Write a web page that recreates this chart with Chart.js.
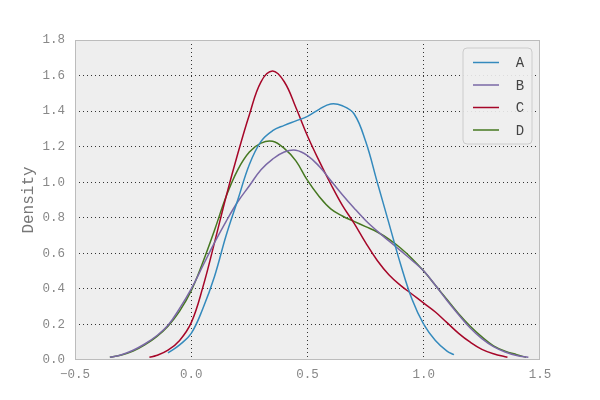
<!DOCTYPE html>
<html>
<head>
<meta charset="utf-8">
<script src="https://cdn.jsdelivr.net/npm/chart.js@4.4.1/dist/chart.umd.min.js"></script>
<style>
  html, body { margin: 0; padding: 0; background: #fff; }
</style>
</head>
<body>
<canvas id="kde" width="600" height="400"></canvas>
<script>
// density estimates, one x/y pair of arrays per series
var seriesNames = ['A', 'B', 'C', 'D'];

var xA = [-0.10, -0.05, 0.00, 0.05, 0.10, 0.15, 0.20, 0.25, 0.30, 0.35, 0.40, 0.45, 0.50, 0.55, 0.60, 0.65, 0.70, 0.75, 0.80, 0.85, 0.90, 0.95, 1.00, 1.05, 1.10, 1.13];
var yA = [0.04, 0.085, 0.15, 0.29, 0.47, 0.70, 0.90, 1.10, 1.23, 1.29, 1.32, 1.345, 1.37, 1.41, 1.44, 1.43, 1.385, 1.23, 1.00, 0.77, 0.54, 0.34, 0.20, 0.11, 0.05, 0.03];

var xB = [-0.35, -0.30, -0.25, -0.20, -0.15, -0.10, -0.05, 0.00, 0.05, 0.10, 0.15, 0.20, 0.25, 0.30, 0.35, 0.40, 0.45, 0.50, 0.55, 0.60, 0.65, 0.70, 0.75, 0.80, 0.85, 0.90, 0.95, 1.00, 1.05, 1.10, 1.15, 1.20, 1.25, 1.30, 1.35, 1.40, 1.45];
var yB = [0.015, 0.03, 0.055, 0.09, 0.135, 0.195, 0.29, 0.40, 0.53, 0.66, 0.78, 0.89, 0.98, 1.07, 1.13, 1.17, 1.18, 1.15, 1.09, 1.01, 0.93, 0.855, 0.785, 0.725, 0.67, 0.615, 0.56, 0.50, 0.42, 0.335, 0.255, 0.18, 0.12, 0.075, 0.045, 0.025, 0.015];

var xC = [-0.18, -0.15, -0.10, -0.05, 0.00, 0.05, 0.10, 0.15, 0.20, 0.25, 0.30, 0.35, 0.40, 0.45, 0.50, 0.55, 0.60, 0.65, 0.70, 0.75, 0.80, 0.85, 0.90, 0.95, 1.00, 1.05, 1.10, 1.15, 1.20, 1.25, 1.30, 1.36];
var yC = [0.015, 0.025, 0.055, 0.11, 0.21, 0.41, 0.66, 0.92, 1.16, 1.38, 1.565, 1.625, 1.565, 1.42, 1.26, 1.12, 0.99, 0.87, 0.77, 0.66, 0.56, 0.48, 0.42, 0.37, 0.32, 0.27, 0.21, 0.15, 0.10, 0.06, 0.035, 0.015];

var xD = [-0.35, -0.30, -0.25, -0.20, -0.15, -0.10, -0.05, 0.00, 0.05, 0.10, 0.15, 0.20, 0.25, 0.30, 0.35, 0.40, 0.45, 0.50, 0.55, 0.60, 0.65, 0.70, 0.75, 0.80, 0.85, 0.90, 0.95, 1.00, 1.05, 1.10, 1.15, 1.20, 1.25, 1.30, 1.35, 1.40, 1.44];
var yD = [0.015, 0.028, 0.05, 0.085, 0.13, 0.19, 0.275, 0.39, 0.55, 0.73, 0.92, 1.07, 1.17, 1.22, 1.23, 1.19, 1.12, 1.01, 0.92, 0.85, 0.81, 0.78, 0.75, 0.72, 0.68, 0.63, 0.57, 0.50, 0.42, 0.34, 0.26, 0.19, 0.13, 0.08, 0.05, 0.03, 0.015];

var xTicks = [-0.5, 0.0, 0.5, 1.0, 1.5];
var yTicks = [0.0, 0.2, 0.4, 0.6, 0.8, 1.0, 1.2, 1.4, 1.6, 1.8];

var colors = ['#348ABD', '#7A68A6', '#A60628', '#467821'];
var monoFont = '"Liberation Mono", "DejaVu Sans Mono", monospace';

function pairUp(xs, ys) {
  var pts = [];
  for (var i = 0; i < xs.length; i += 1) {
    pts.push({x: xs[i], y: ys[i]});
  }
  return pts;
}

function fmt(v) {
  var s = Math.abs(v).toFixed(1);
  return v < -1e-9 ? '\u2212' + s : s;
}

function edgeClear(ticks) {
  return function (c) {
    var v = c.tick ? c.tick.value : null;
    return (v === ticks[0] || v === ticks[ticks.length - 1]) ? 'rgba(0,0,0,0)' : '#333';
  };
}

// grey panel behind the curves, light frame and legend on top
var panel = {
  id: 'panel',
  beforeDraw: function (chart) {
    var a = chart.chartArea, ctx = chart.ctx;
    ctx.save();
    ctx.fillStyle = '#EEEEEE';
    ctx.fillRect(a.left, a.top, a.right - a.left, a.bottom - a.top);
    ctx.restore();
  },
  afterDraw: function (chart) {
    var a = chart.chartArea, ctx = chart.ctx;
    ctx.save();
    ctx.strokeStyle = '#BCBCBC';
    ctx.lineWidth = 1;
    ctx.strokeRect(a.left + 0.5, a.top + 0.5, a.right - a.left - 1, a.bottom - a.top - 1);

    // legend box
    var bx = 463, by = 48, bw = 69, bh = 96, r = 4;
    ctx.beginPath();
    ctx.moveTo(bx + r, by);
    ctx.arcTo(bx + bw, by, bx + bw, by + bh, r);
    ctx.arcTo(bx + bw, by + bh, bx, by + bh, r);
    ctx.arcTo(bx, by + bh, bx, by, r);
    ctx.arcTo(bx, by, bx + bw, by, r);
    ctx.closePath();
    ctx.fillStyle = 'rgba(238,238,238,0.9)';
    ctx.fill();
    ctx.strokeStyle = '#CCCCCC';
    ctx.stroke();

    ctx.font = '14px ' + monoFont;
    ctx.textAlign = 'center';
    ctx.textBaseline = 'middle';
    chart.data.datasets.forEach(function (ds, i) {
      var yy = 62.5 + i * 22.5;
      ctx.strokeStyle = ds.borderColor;
      ctx.lineWidth = 1.5;
      ctx.beginPath();
      ctx.moveTo(473, yy);
      ctx.lineTo(499, yy);
      ctx.stroke();
      ctx.fillStyle = '#444';
      ctx.fillText(ds.label, 520, yy + 1);
    });
    ctx.restore();
  }
};

var allX = [xA, xB, xC, xD], allY = [yA, yB, yC, yD];

new Chart(document.getElementById('kde'), {
  type: 'line',
  data: {
    datasets: seriesNames.map(function (name, i) {
      return {
        label: name,
        data: pairUp(allX[i], allY[i]),
        borderColor: colors[i],
        borderWidth: 1.5,
        pointRadius: 0,
        fill: false,
        tension: 0.4
      };
    })
  },
  options: {
    responsive: false,
    animation: false,
    layout: {padding: {top: 40, right: 60, left: 0, bottom: 0}},
    plugins: {
      legend: {display: false},
      tooltip: {enabled: false}
    },
    scales: {
      x: {
        type: 'linear',
        min: xTicks[0],
        max: xTicks[xTicks.length - 1],
        afterBuildTicks: function (scale) {
          scale.ticks = xTicks.map(function (v) { return {value: v}; });
        },
        afterFit: function (scale) { scale.height = 40; },
        border: {display: false, dash: [1, 3]},
        grid: {drawTicks: false, color: edgeClear(xTicks), lineWidth: 1},
        ticks: {
          padding: 7,
          color: '#888',
          font: {family: monoFont, size: 12.5},
          callback: function (v) { return fmt(v); }
        }
      },
      y: {
        type: 'linear',
        min: yTicks[0],
        max: yTicks[yTicks.length - 1],
        afterBuildTicks: function (scale) {
          scale.ticks = yTicks.map(function (v) { return {value: v}; });
        },
        afterFit: function (scale) { scale.width = 75; },
        border: {display: false, dash: [1, 3]},
        grid: {drawTicks: false, color: edgeClear(yTicks), lineWidth: 1},
        ticks: {
          padding: 10,
          color: '#888',
          font: {family: monoFont, size: 12.5},
          callback: function (v) { return fmt(v); }
        },
        title: {
          display: true,
          text: 'Density',
          color: '#777',
          padding: {top: 19, bottom: 0},
          font: {family: monoFont, size: 16}
        }
      }
    }
  },
  plugins: [panel]
});
</script>
</body>
</html>
